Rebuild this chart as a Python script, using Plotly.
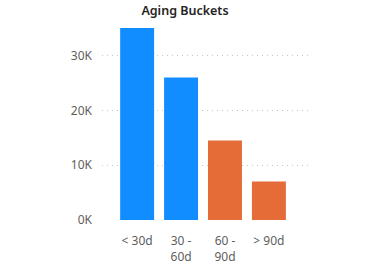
import plotly.graph_objects as go

categories = ["< 30d", "30 -<br>60d", "60 -<br>90d", "> 90d"]
values = [35000, 26000, 14500, 7000]
colors = ["#118DFF", "#118DFF", "#E66C37", "#E66C37"]
tick_vals = [0, 10000, 20000, 30000]
tick_text = ["0K", "10K", "20K", "30K"]

fig = go.Figure(go.Bar(
    x=list(range(len(categories))), y=values,
    marker=dict(color=colors, line=dict(width=0)),
    width=0.773,
))

fig.update_layout(
    width=370, height=267,
    margin=dict(l=102, r=62, t=27, b=47),
    plot_bgcolor="white", paper_bgcolor="white",
    title=dict(text="Aging Buckets", x=0.5, xanchor="center", y=0.962, yanchor="middle",
               font=dict(family="Noto Sans", size=12.5, weight=600, color="#252423")),
    font=dict(family="Noto Sans", size=11, color="#605E5C"),
    showlegend=False,
)
fig.update_xaxes(
    range=[-0.8, 3.89], tickvals=list(range(len(categories))), ticktext=categories,
    showgrid=False, zeroline=False, showline=False, ticks="", ticklen=0,
    ticklabelstandoff=12, automargin=False,
    tickfont=dict(size=12, color="#605E5C"),
)
fig.update_yaxes(
    range=[0, 35200], tickvals=tick_vals, ticktext=tick_text,
    showgrid=True, gridcolor="#C8C6C4", griddash="1px,4px", gridwidth=1,
    zeroline=False, showline=False, ticks="", ticklabelstandoff=9, automargin=False,
    tickfont=dict(size=12, color="#605E5C"),
)
fig.write_html("out.html")
